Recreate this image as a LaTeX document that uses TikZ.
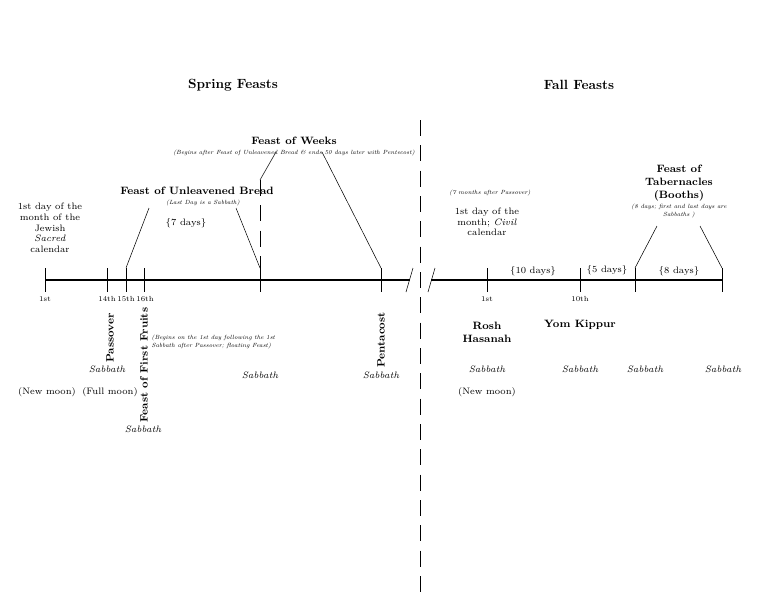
\documentclass[tikz,border=0pt]{standalone}
\usetikzlibrary{positioning,calc}
\tikzset{
  lbl/.style={font=\scriptsize, align=center, inner sep=1pt},
  note/.style={font=\fontsize{4.5}{5.5}\selectfont\itshape, align=center, inner sep=1pt},
  feast/.style={font=\footnotesize\bfseries\scshape, align=center, inner sep=1pt},
  sab/.style={font=\scriptsize\itshape, inner sep=1pt},
  tick/.style={semithick},
  day/.style={font=\fontsize{5.5}{6}\selectfont, inner sep=1pt}
}
\begin{document}
\begin{tikzpicture}[x=0.75pt,y=-0.75pt]
\useasboundingbox (0,0) rectangle (768,594);
% headings
\node[feast,font=\normalsize\bfseries\scshape] (spring) at (233,85) {Spring Feasts};
\node[feast,font=\normalsize\bfseries\scshape] (fall) at (579,85) {Fall Feasts};
% ticks on the line
\foreach \n/\x in {a/45,b/107,c/126,d/144,e/260,f/381,g/487,h/580,i/635,j/722}{
  \coordinate (t\n) at (\x,280);
  \coordinate (u\n) at (\x,268);
  \coordinate (l\n) at (\x,292);
  \draw[tick] (u\n)--(l\n);
}
\coordinate (endL) at (410,280);
\coordinate (startR) at (431,280);
\draw[thick] (ta)--(endL);
\draw[thick] (startR)--(tj);
\draw (406,292)--(413,268);
\draw (428,292)--(435,268);
% divider
\coordinate (divtop) at (420,120);
\coordinate (divbot) at (420,594);
\draw[semithick,dash pattern=on 12pt off 7pt] (divtop)--(divbot);
\coordinate (wk) at (260,180);
\draw[semithick,dash pattern=on 12pt off 7pt] (wk)--(ue);
% spring
\node[feast] (weeks) at (294,141) {Feast of Weeks};
\node[note] (weeksn) at (294,153) {(Begins after Feast of Unleavened Bread \& ends 50 days later with Pentecost)};
\node[feast] (unl) at (197,191) {Feast of Unleavened Bread};
\node[note] (unln) at (203,203) {(Last Day is a Sabbath)};
\node[lbl] (seven) at (186,223) {\{7 days\}};
\node[lbl] (first) at (50,228) {1st day of the\\month of the\\Jewish\\\textit{Sacred}\\calendar};
\coordinate (unlA) at (149,208);
\coordinate (unlB) at (236,208);
\coordinate (wkA) at (276,152);
\coordinate (wkB) at (322,152);
\draw (uc)--(unlA);
\draw (unlB)--(ue);
\draw (wkA)--(wk);
\draw (wkB)--(uf);
\node[day] at (45,299) {1st};
\node[day] at (107,299) {14th};
\node[day] at (126,299) {15th};
\node[day] at (145,299) {16th};
\node[feast,rotate=90] (pass) at (110,338) {Passover};
\node[sab] at (107,369) {Sabbath};
\node[lbl] at (110,392) {(Full moon)};
\node[lbl] at (47,392) {(New moon)};
\node[feast,rotate=90] (fruits) at (144,365) {Feast of First Fruits};
\node[sab] at (143,429) {Sabbath};
\node[note,align=left,anchor=west] at (150,342) {(Begins on the 1st day following the 1st\\Sabbath after Passover; floating Feast)};
\node[sab] at (260,375) {Sabbath};
\node[feast,rotate=90] (pent) at (381,340) {Pentacost};
\node[sab] at (381,375) {Sabbath};
% fall
\node[note] at (490,193) {(7 months after Passover)};
\node[lbl] (civil) at (487,222) {1st day of the\\month; \textit{Civil}\\calendar};
\node[feast] (tab) at (679,183) {Feast of\\Tabernacles\\(Booths)};
\node[note] (tabn) at (679,211) {(8 days; first and last days are\\Sabbaths )};
\coordinate (tabA) at (657,226);
\coordinate (tabB) at (700,226);
\draw (ui)--(tabA);
\draw (tabB)--(uj);
\node[lbl] at (533,271) {\{10 days\}};
\node[lbl] at (607,270) {\{5 days\}};
\node[lbl] at (679,271) {\{8 days\}};
\node[day] at (487,299) {1st};
\node[day] at (580,299) {10th};
\node[feast] (rosh) at (487,332) {Rosh\\Hasanah};
\node[feast] (yom) at (580,325) {Yom Kippur};
\foreach \x in {487,580,645,723}{\node[sab] at (\x,369) {Sabbath};}
\node[lbl] at (487,392) {(New moon)};
\end{tikzpicture}
\end{document}
